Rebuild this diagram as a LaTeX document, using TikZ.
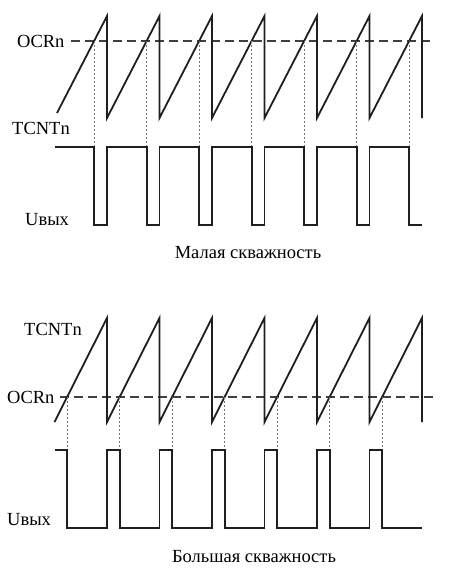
\documentclass[tikz,border=0pt]{standalone}
\usepackage{fontspec}
\setmainfont{Liberation Serif}
\begin{document}
\begin{tikzpicture}[x=1pt,y=-1pt,
  sig/.style={line width=1.8pt,black!88,line join=miter},
  ocr/.style={line width=1.4pt,black!75,dash pattern=on 9pt off 5pt},
  guide/.style={line width=0.9pt,black!55,dash pattern=on 2pt off 2pt},
  lbl/.style={inner sep=0pt,anchor=west,font=\fontsize{18.5}{22}\selectfont},
  captext/.style={inner sep=0pt,font=\fontsize{18.5}{22}\selectfont}]
\useasboundingbox (0,0) rectangle (473,574);
% ---------------- top diagram ----------------
\def\per{52.5}
% dashed OCRn
\coordinate (oa1) at (71,41);
\coordinate (ob1) at (434,41);
\draw[ocr] (oa1) -- (ob1);
% sawtooth
\draw[sig] (57,113)
  \foreach \k in {0,...,5}{ -- ({107+\k*\per},16) -- ({107+\k*\per},118) }
  -- (422,16) -- (422,118);
% dotted guides & pulse
\foreach \k in {0,...,6}{
  \coordinate (tc\k) at ({107+\k*\per-12.87},41);
  \coordinate (tp\k) at ({107+\k*\per-12.87},147);
  \draw[guide] (tc\k) -- (tp\k);
}
\draw[sig] (55,147)
  \foreach \k in {0,...,5}{ -- ({107+\k*\per-12.87},147) -- ({107+\k*\per-12.87},225) -- ({107+\k*\per},225) -- ({107+\k*\per},147) }
  -- (409.1,147) -- (409.1,225) -- (422,225);
\node[lbl] (tocr) at (17,41) {OCRn};
\node[lbl] (ttc) at (12,128) {TCNTn};
\node[lbl] (tu) at (25,220) {Uвых};
\node[captext] (tcap) at (248,253) {Малая скважность};
% ---------------- bottom diagram ----------------
\coordinate (oa2) at (60,397);
\coordinate (ob2) at (435,397);
\draw[ocr] (oa2) -- (ob2);
\draw[sig] (54.5,422)
  \foreach \k in {0,...,5}{ -- ({107+\k*\per},318) -- ({107+\k*\per},422) }
  -- (422,318) -- (422,422);
\foreach \k in {0,...,6}{
  \coordinate (bc\k) at ({107+\k*\per-39.9},397);
  \coordinate (bp\k) at ({107+\k*\per-39.9},450);
  \draw[guide] (bc\k) -- (bp\k);
}
\draw[sig] (55,450)
  \foreach \k in {0,...,5}{ -- ({107+\k*\per-39.9},450) -- ({107+\k*\per-39.9},528) -- ({107+\k*\per},528) -- ({107+\k*\per},450) }
  -- (382.1,450) -- (382.1,528) -- (422,528);
\node[lbl] (btc) at (24,329) {TCNTn};
\node[lbl] (bocr) at (7,397) {OCRn};
\node[lbl] (bu) at (7,520) {Uвых};
\node[captext] (bcap) at (254,557) {Большая скважность};
\end{tikzpicture}
\end{document}
